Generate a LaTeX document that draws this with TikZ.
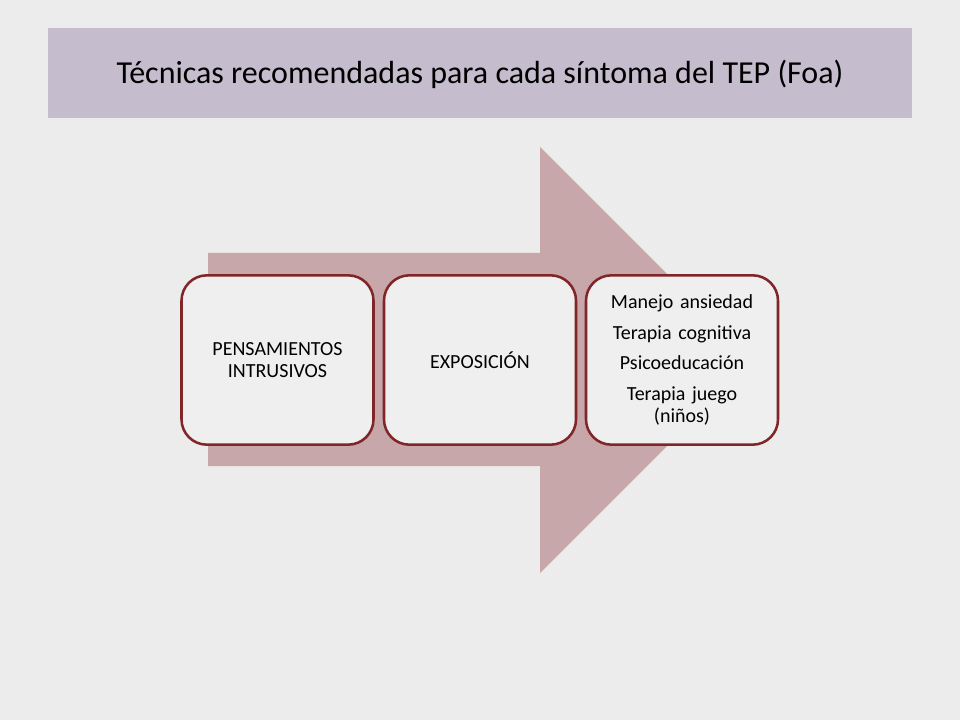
\documentclass[tikz,border=0pt]{standalone}
\usepackage{fontspec}
\setmainfont{Carlito}
\definecolor{slidebg}{RGB}{236,236,236}
\definecolor{titleband}{RGB}{197,189,205}
\definecolor{arrowfill}{RGB}{200,167,171}
\definecolor{boxline}{RGB}{128,38,40}
\definecolor{boxfill}{RGB}{239,239,239}
\tikzset{
  stagebox/.style={draw=boxline, line width=1.9pt, fill=boxfill, rounded corners=19pt,
    minimum width=144pt, minimum height=127pt, align=center, text width=130pt,
    font=\fontsize{15}{16.5}\selectfont}
}
\begin{document}
\begin{tikzpicture}[x=0.75pt, y=-0.75pt]
    % Background
    \fill[slidebg] (0,0) rectangle (960,720);
    \useasboundingbox (0,0) rectangle (960,720);
    \fill[titleband] (48,28) rectangle (912,118);
    \node[font=\fontsize{24}{28}\selectfont] (title) at (480,74) {Técnicas recomendadas para cada síntoma del TEP (Foa)};
    % Arrow
    \fill[arrowfill] (208,253) -- (540,253) -- (540,147) -- (753,360) -- (540,573) -- (540,466) -- (208,466) -- cycle;
    % Nodes
    \node[stagebox] (box1) at (277.5,360) {PENSAMIENTOS\\INTRUSIVOS};
    \node[stagebox] (box2) at (480,360) {EXPOSICIÓN};
    \node[stagebox] (box3) at (682,360) {Manejo ansiedad\\[6.5pt]Terapia cognitiva\\[6.5pt]Psicoeducación\\[6.5pt]Terapia juego\\(niños)};
\end{tikzpicture}
\end{document}
